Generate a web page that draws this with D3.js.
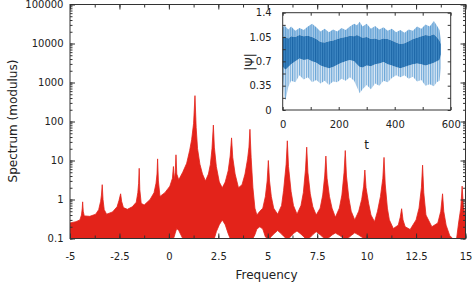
<!DOCTYPE html>
<html>
<head>
<meta charset="utf-8">
<style>
  body { margin: 0; background: #fff; }
  svg { display: block; font-family: "DejaVu Sans", sans-serif; }
  .axis path { display: none; }
  .axis line { stroke: #333; }
  .axis text { fill: #222; font-size: 10px; font-family: "DejaVu Sans", sans-serif; }
</style>
</head>
<body>
<svg width="474" height="284"></svg>

<script src="https://d3js.org/d3.v7.min.js"></script>
<script>

	// Spectrum (modulus) vs frequency, with an inset of |Psi|(t)

	// ---- main plot data : envelope of the dense spectrum ----
	// upper edge of the red band [frequency, modulus]
	const specUpper = [
		[-5.0, 0.25], [-4.7, 0.27], [-4.5, 0.3], [-4.42, 0.4], [-4.38, 0.6], [-4.36, 0.87], [-4.33, 0.5], [-4.28, 0.38],
		[-4.0, 0.37], [-3.7, 0.42], [-3.55, 0.55], [-3.45, 0.9], [-3.41, 1.3], [-3.37, 2.4], [-3.33, 1.0], [-3.27, 0.55],
		[-3.15, 0.42], [-2.85, 0.48], [-2.62, 0.65], [-2.52, 0.95], [-2.44, 1.4], [-2.39, 0.9], [-2.3, 0.62],
		[-2.1, 0.56], [-1.85, 0.65], [-1.65, 0.85], [-1.57, 1.5], [-1.53, 2.6], [-1.50, 6.3], [-1.47, 1.8], [-1.4, 0.8],
		[-1.25, 0.72], [-0.95, 1.0], [-0.75, 1.5], [-0.65, 2.6], [-0.6, 4.5], [-0.57, 11], [-0.53, 3], [-0.45, 1.2],
		[-0.2, 1.5], [0.05, 2.2], [0.18, 3.5], [0.23, 7], [0.27, 3.2], [0.32, 5], [0.36, 14], [0.4, 4.5],
		[0.5, 3.2], [0.7, 5], [0.9, 8.5], [1.05, 18], [1.15, 34], [1.25, 90], [1.32, 460], [1.38, 70],
		[1.45, 20], [1.57, 8], [1.7, 4.5], [1.85, 3], [2.0, 4.5], [2.1, 8], [2.18, 20], [2.25, 81],
		[2.3, 22], [2.4, 7], [2.55, 2.8], [2.7, 2], [2.85, 2.8], [3.0, 5.5], [3.1, 13], [3.17, 38],
		[3.23, 12], [3.35, 4.5], [3.52, 2], [3.7, 2.4], [3.85, 4.5], [3.98, 11], [4.05, 22], [4.10, 63],
		[4.16, 12], [4.25, 2], [4.35, 0.6], [4.45, 0.4], [4.6, 0.5],
		[4.75, 0.6], [4.88, 1.2], [4.97, 3], [5.03, 10], [5.09, 3], [5.18, 1.2], [5.3, 0.6],
		[5.5, 0.42],
		[5.7, 0.7], [5.8, 1.7], [5.93, 8], [5.99, 32], [6.05, 7], [6.18, 1.6], [6.3, 0.7],
		[6.48, 0.42],
		[6.68, 0.7], [6.8, 1.5], [6.91, 6], [6.97, 22], [7.03, 5], [7.15, 1.4], [7.28, 0.65],
		[7.45, 0.4],
		[7.65, 0.6], [7.78, 1.3], [7.88, 4], [7.94, 13], [8.0, 3.5], [8.12, 1.2], [8.25, 0.6],
		[8.42, 0.35],
		[8.62, 0.6], [8.75, 1.3], [8.86, 5], [8.92, 18], [8.98, 4], [9.1, 1.1], [9.22, 0.5],
		[9.4, 0.3],
		[9.6, 0.5], [9.75, 1.0], [9.85, 2.2], [9.91, 5.7], [9.97, 2], [10.1, 0.8], [10.22, 0.4],
		[10.4, 0.27],
		[10.55, 0.5], [10.7, 1.2], [10.82, 3.5], [10.88, 12], [10.94, 2.5], [11.05, 0.6], [11.15, 0.3],
		[11.35, 0.18],
		[11.6, 0.22], [11.7, 0.35], [11.77, 0.58], [11.84, 0.3], [11.95, 0.2],
		[12.2, 0.17],
		[12.5, 0.3], [12.65, 0.6], [12.77, 2], [12.83, 7.6], [12.89, 1.5], [13.0, 0.4],
		[13.3, 0.2],
		[13.6, 0.25], [13.75, 0.5], [13.84, 1.4], [13.9, 0.5], [14.02, 0.22],
		[14.2, 0.12], [14.35, 0.09], [14.55, 0.1],
		[14.65, 0.25], [14.76, 0.6], [14.83, 2.2], [14.89, 0.7], [15.0, 0.35]
	]
	// lower edge of the red band (0.1 = sits on the axis)
	const specLower = [
		[-5.0, 0.1], [0.25, 0.1], [0.4, 0.18], [0.55, 0.15], [0.65, 0.1],
		[2.3, 0.1], [2.5, 0.2], [2.7, 0.3], [2.9, 0.2], [3.05, 0.1],
		[4.3, 0.1], [4.5, 0.2], [4.7, 0.2], [4.9, 0.1],
		[5.1, 0.1], [5.5, 0.16], [5.9, 0.1], [6.1, 0.1], [6.45, 0.16], [6.9, 0.1],
		[7.1, 0.1], [7.45, 0.15], [7.85, 0.1], [8.05, 0.1], [8.4, 0.14], [8.85, 0.1],
		[9.05, 0.1], [9.4, 0.14], [9.85, 0.1], [15.0, 0.1]
	]

	const xTicks = [-5, -2.5, 0, 2.5, 5, 7.5, 10, 12.5, 15]
	const xTickLabels = ["-5", "-2.5", "0", "2.5", "5", "7.5", "10", "12.5", "15"]
	const yTicks = [0.1, 1, 10, 100, 1000, 10000, 100000]
	const yTickLabels = ["0.1", "1", "10", "100", "1000", "10000", "100000"]

	// ---- inset data : envelope of |Psi| against t ----
	const insetT = [0, 5, 10, 20, 30, 45, 60, 75, 90, 105, 120, 135, 150, 165, 180, 195, 210, 225, 240, 255, 265,
		275, 285, 300, 315, 330, 345, 360, 375, 390, 405, 420, 435, 450, 465, 480, 495, 510, 525, 540, 550, 560, 565]
	const psiHigh = [1.18, 1.22, 1.2, 1.16, 1.2, 1.14, 1.18, 1.15, 1.2, 1.24, 1.19, 1.13, 1.17, 1.12, 1.16, 1.13,
		1.18, 1.15, 1.2, 1.24, 1.22, 1.27, 1.2, 1.24, 1.17, 1.21, 1.16, 1.19, 1.14, 1.17, 1.12, 1.15, 1.11, 1.16,
		1.14, 1.2, 1.17, 1.23, 1.2, 1.28, 1.22, 1.15, 1.0]
	const psiLow = [0.55, 0.2, 0.14, 0.33, 0.42, 0.4, 0.5, 0.44, 0.47, 0.4, 0.43, 0.38, 0.42, 0.36, 0.41, 0.4,
		0.45, 0.42, 0.47, 0.42, 0.33, 0.24, 0.3, 0.36, 0.3, 0.38, 0.35, 0.42, 0.4, 0.46, 0.5, 0.47, 0.5, 0.45,
		0.48, 0.41, 0.43, 0.35, 0.37, 0.34, 0.4, 0.42, 0.6]
	const psiCoreHigh = [1.05, 1.06, 1.05, 1.03, 1.06, 1.05, 1.08, 1.06, 1.07, 1.05, 1.02, 0.98, 0.97, 0.99, 1.0,
		1.02, 1.04, 1.05, 1.07, 1.06, 1.08, 1.06, 1.04, 1.05, 1.02, 1.03, 1.01, 1.03, 1.02, 1.0, 0.97, 0.95, 0.96,
		0.99, 1.02, 1.04, 1.06, 1.08, 1.07, 1.09, 1.05, 1.0, 0.95]
	const psiCoreLow = [0.62, 0.6, 0.58, 0.62, 0.66, 0.7, 0.74, 0.72, 0.73, 0.7, 0.68, 0.64, 0.62, 0.6, 0.62,
		0.65, 0.68, 0.7, 0.72, 0.7, 0.66, 0.62, 0.61, 0.64, 0.63, 0.66, 0.67, 0.69, 0.66, 0.64, 0.62, 0.6, 0.62,
		0.64, 0.66, 0.67, 0.66, 0.64, 0.66, 0.68, 0.7, 0.72, 0.8]

	const insetXTicks = [0, 100, 200, 300, 400, 500, 600]
	const insetXLabels = ["0", "", "200", "", "400", "", "600"]
	const insetYTicks = [0, 0.175, 0.35, 0.525, 0.7, 0.875, 1.05, 1.225, 1.4]
	const insetYLabels = ["0", "", "0.35", "", "0.7", "", "1.05", "", "1.4"]

	const svg = d3.select("svg")

	// ---------------- main plot ----------------
	const x = d3.scaleLinear().domain([-5, 15]).range([70, 465.5])
	const y = d3.scaleLog().domain([0.1, 100000]).range([238.5, 4.5]).clamp(true)

	svg.append("clipPath").attr("id", "mainClip")
		.append("rect").attr("x", 70).attr("y", 4.5).attr("width", 395.5).attr("height", 234)

	const spec = specUpper.map(([f, v]) => {
		// lower edge, looked up from the lower array at the same frequency
		const i = d3.bisector(d => d[0]).left(specLower, f)
		const a = specLower[Math.max(0, i - 1)], b = specLower[Math.min(specLower.length - 1, i)]
		const lo = b[0] === a[0] ? a[1] : a[1] + (b[1] - a[1]) * (f - a[0]) / (b[0] - a[0])
		return {f, hi: v, lo: Math.min(lo, v)}
	})

	svg.append("path")
		.datum(spec)
		.attr("clip-path", "url(#mainClip)")
		.attr("fill", "#e3231a")
		.attr("stroke", "#e3231a")
		.attr("stroke-width", 0.8)
		.attr("d", d3.area()
			.x(d => x(d.f))
			.y0(d => y(d.lo))
			.y1(d => y(d.hi)))

	// axes, ticks pointing inward
	const xMinor = d3.range(-5, 15.01, 1.25)
	svg.append("g").attr("class", "axis").attr("transform", "translate(0,238.5)")
		.call(d3.axisBottom(x).tickValues(xTicks).tickSize(-5).tickPadding(14)
			.tickFormat((d, i) => xTickLabels[i]))
	svg.append("g").attr("class", "axis").attr("transform", "translate(0,238.5)")
		.call(d3.axisBottom(x).tickValues(xMinor).tickSize(-3).tickFormat(""))
	svg.append("g").attr("class", "axis").attr("transform", "translate(0,4.5)")
		.call(d3.axisTop(x).tickValues(xTicks).tickSize(-5).tickFormat(""))
	svg.append("g").attr("class", "axis").attr("transform", "translate(0,4.5)")
		.call(d3.axisTop(x).tickValues(xMinor).tickSize(-3).tickFormat(""))

	svg.append("g").attr("class", "axis").attr("transform", "translate(70,0)")
		.call(d3.axisLeft(y).tickValues(yTicks).tickSize(-5).tickPadding(6.5)
			.tickFormat((d, i) => yTickLabels[i]))
	svg.append("g").attr("class", "axis").attr("transform", "translate(70,0)")
		.call(d3.axisLeft(y).tickValues(y.ticks()).tickSize(-2.5).tickFormat(""))
	svg.append("g").attr("class", "axis").attr("transform", "translate(465.5,0)")
		.call(d3.axisRight(y).tickValues(yTicks).tickSize(-5).tickFormat(""))
	svg.append("g").attr("class", "axis").attr("transform", "translate(465.5,0)")
		.call(d3.axisRight(y).tickValues(y.ticks()).tickSize(-2.5).tickFormat(""))

	svg.append("rect")
		.attr("x", 70).attr("y", 4.5).attr("width", 395.5).attr("height", 234)
		.attr("fill", "none").attr("stroke", "#333").attr("stroke-width", 1)

	svg.append("text")
		.attr("x", 266.5).attr("y", 279)
		.attr("text-anchor", "middle").attr("font-size", 12).attr("fill", "#222")
		.text("Frequency")
	svg.append("text")
		.attr("transform", "translate(17,121) rotate(-90)")
		.attr("text-anchor", "middle").attr("font-size", 12).attr("fill", "#222")
		.text("Spectrum (modulus)")

	// ---------------- inset ----------------
	const xi = d3.scaleLinear().domain([0, 600]).range([282.7, 450.7])
	const yi = d3.scaleLinear().domain([0, 1.4]).range([110, 12.7])

	const defs = svg.append("defs")
	const stripes = (id, bg, fg) => {
		const p = defs.append("pattern").attr("id", id)
			.attr("patternUnits", "userSpaceOnUse").attr("width", 2.3).attr("height", 10)
		p.append("rect").attr("width", 2.3).attr("height", 10).attr("fill", bg)
		p.append("rect").attr("width", 1.1).attr("height", 10).attr("fill", fg)
	}
	stripes("psiUpper", "#a9cbe9", "#5f9fd4")
	stripes("psiLower", "#dce9f5", "#6ea8d8")
	stripes("psiDark", "#3f88c4", "#1c66a7")

	svg.append("rect")
		.attr("x", 282.7).attr("y", 12.7).attr("width", 168).attr("height", 97.3)
		.attr("fill", "#fff")

	const psi = insetT.map((t, i) => ({t, hi: psiHigh[i], lo: psiLow[i], chi: psiCoreHigh[i], clo: psiCoreLow[i]}))
	const band = (lo, hi) => d3.area().x(d => xi(d.t)).y0(d => yi(d[lo])).y1(d => yi(d[hi]))

	svg.append("path").datum(psi).attr("fill", "url(#psiUpper)").attr("d", band("chi", "hi"))
	svg.append("path").datum(psi).attr("fill", "url(#psiLower)").attr("d", band("lo", "clo"))
	svg.append("path").datum(psi).attr("fill", "url(#psiDark)").attr("d", band("clo", "chi"))

	svg.append("g").attr("class", "axis").attr("transform", "translate(0,110)")
		.call(d3.axisBottom(xi).tickValues(insetXTicks).tickSize(-3).tickPadding(11)
			.tickFormat((d, i) => insetXLabels[i]))
	svg.append("g").attr("class", "axis").attr("transform", "translate(0,12.7)")
		.call(d3.axisTop(xi).tickValues(insetXTicks).tickSize(-3).tickFormat(""))
	svg.append("g").attr("class", "axis").attr("transform", "translate(282.7,0)")
		.call(d3.axisLeft(yi).tickValues(insetYTicks).tickSize(-3).tickPadding(11)
			.tickFormat((d, i) => insetYLabels[i]))
	svg.append("g").attr("class", "axis").attr("transform", "translate(450.7,0)")
		.call(d3.axisRight(yi).tickValues(insetYTicks).tickSize(-3).tickFormat(""))

	svg.append("rect")
		.attr("x", 282.7).attr("y", 12.7).attr("width", 168).attr("height", 97.3)
		.attr("fill", "none").attr("stroke", "#333").attr("stroke-width", 1)

	svg.append("text")
		.attr("x", 366.7).attr("y", 149)
		.attr("text-anchor", "middle").attr("font-size", 12).attr("fill", "#222")
		.text("t")
	svg.append("text")
		.attr("transform", "translate(254,62) rotate(-90)")
		.attr("text-anchor", "middle").attr("font-size", 12).attr("fill", "#222")
		.text("|Ψ|")

</script>
</body>
</html>
